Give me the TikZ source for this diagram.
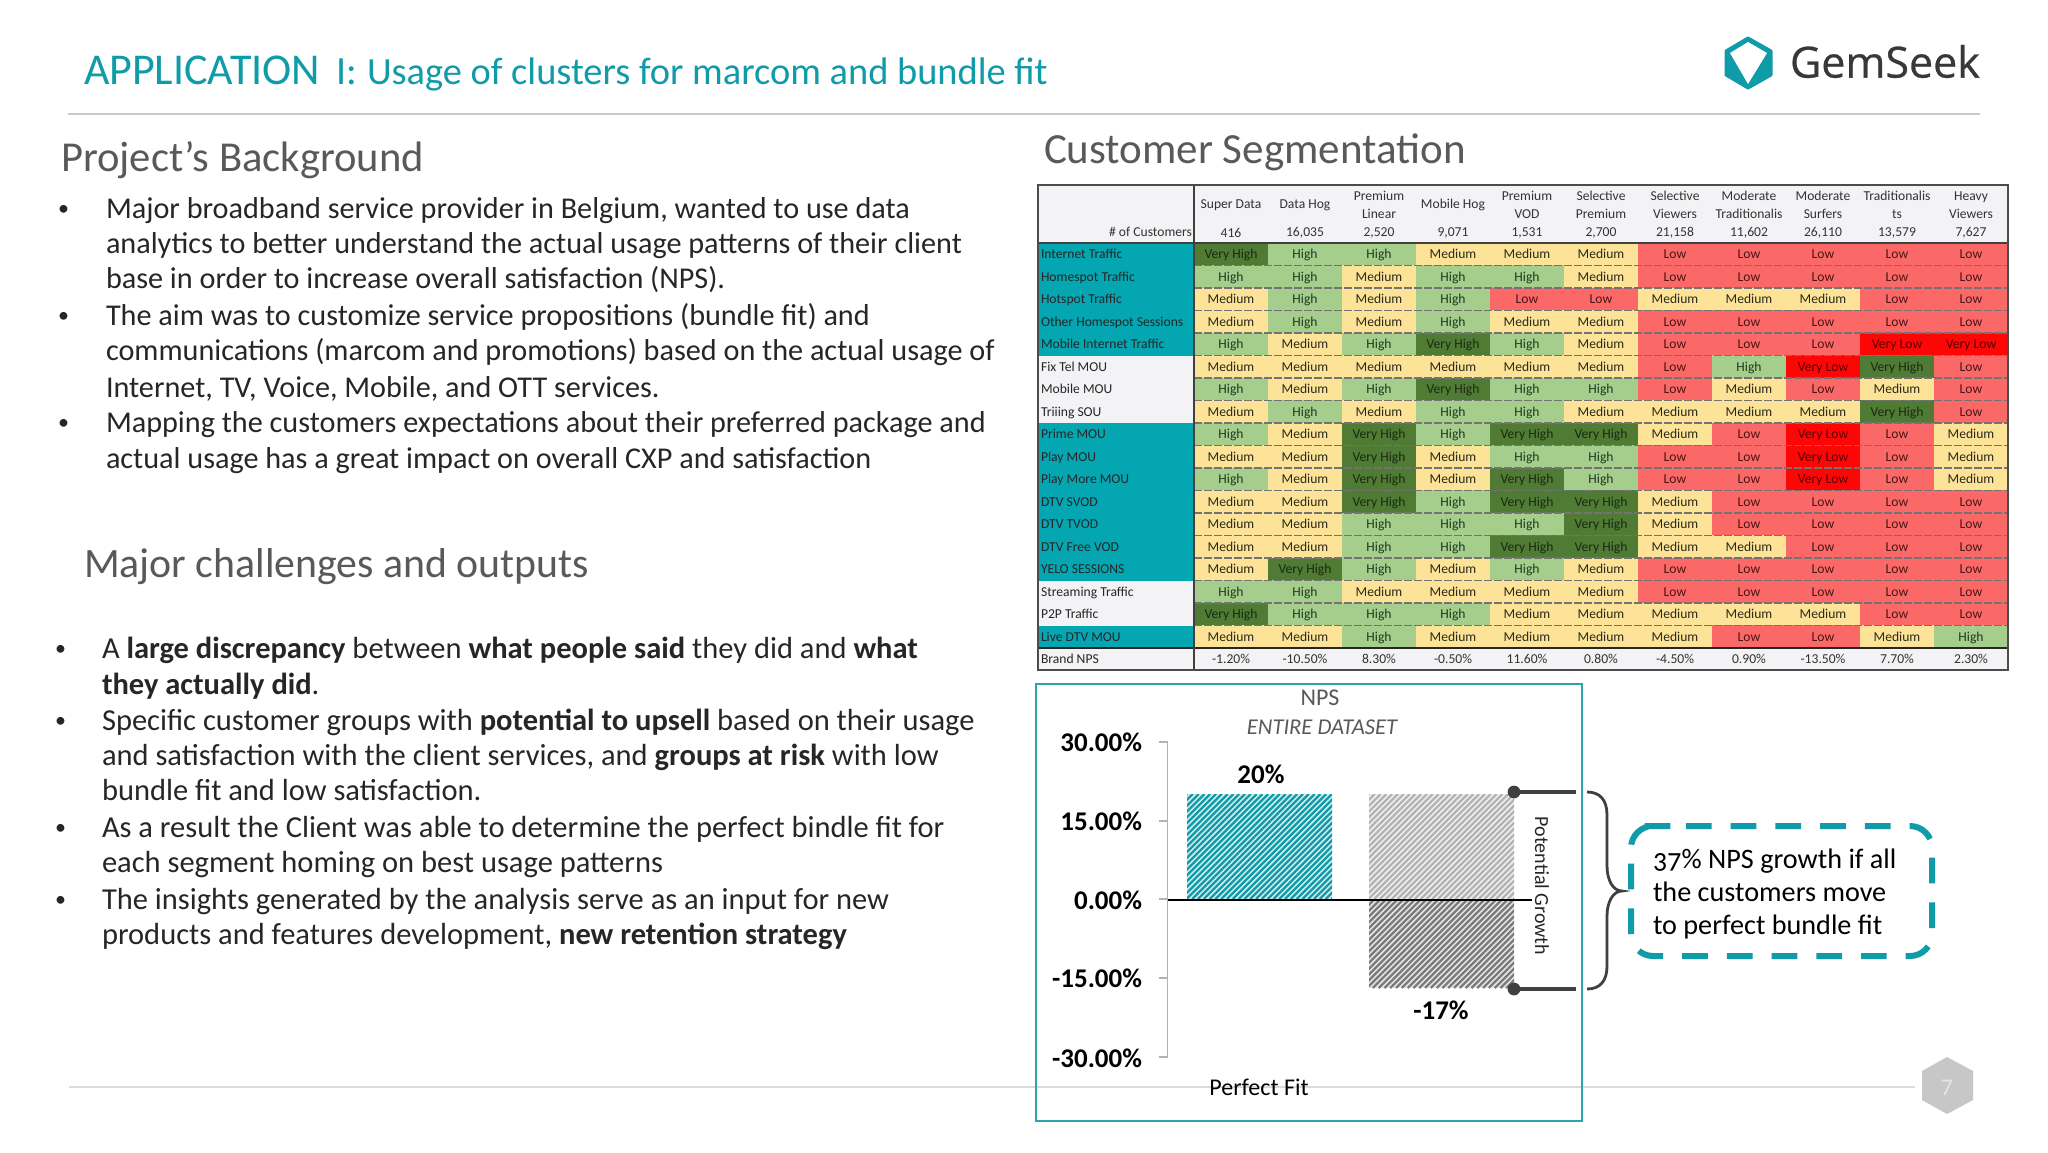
\documentclass[tikz,border=0pt]{standalone}
\usepackage{fontspec}
\setmainfont{Carlito}
\newfontfamily\oldnum[Numbers=OldStyle]{Carlito}
\newfontfamily\logofont[FakeBold=0.6]{Open Sans}
\newcommand{\fsz}[1]{\fontsize{#1}{#1}\selectfont}
\definecolor{teal1}{HTML}{0F9BA8}
\definecolor{framec}{HTML}{2AA5AE}
\definecolor{rowteal}{HTML}{04A6B2}
\definecolor{headbg}{HTML}{F3F3F6}
\definecolor{greytxt}{HTML}{595959}
\definecolor{bodytxt}{HTML}{262626}
\definecolor{ruleg}{HTML}{C9C9C9}
\definecolor{cV}{HTML}{4F7B35}
\definecolor{cH}{HTML}{A5CE8D}
\definecolor{cM}{HTML}{FDE397}
\definecolor{cL}{HTML}{FB6868}
\definecolor{cU}{HTML}{FC0606}
\definecolor{tV}{HTML}{1A2A10}
\definecolor{tH}{HTML}{1E3A1E}
\definecolor{tM}{HTML}{2A2A1A}
\definecolor{tL}{HTML}{4A1515}
\definecolor{tU}{HTML}{5A0000}
\definecolor{hatchlt}{HTML}{B3B3B3}
\definecolor{hatchdk}{HTML}{7A7A7A}
\def\nameV{Very High}\def\nameH{High}\def\nameM{Medium}\def\nameL{Low}\def\nameU{Very Low}
\newcommand{\hatchbar}[5]{%
  \fill[#5!18] (#1,#2) rectangle (#3,#4);
  \begin{scope}
    \clip (#1,#2) rectangle (#3,#4);
    \foreach \hk in {0,...,60}{%
      \pgfmathsetmacro{\xa}{#1-(#4-#2)+\hk*5.8}
      \pgfmathsetmacro{\xb}{\xa+(#4-#2)}
      \draw[#5,line width=2.3pt] (\xa,#4) -- (\xb,#2);
    }
  \end{scope}}
\tikzset{
  x=1pt,y=-1pt,
  fixh/.code={%
    \pgfmathsetmacro{\fixhh}{.88*#1}\pgfmathsetmacro{\fixhd}{.2*#1}%
    \tikzset{inner sep=0pt,outer sep=0pt,text height/.expanded=\fixhh pt,text depth/.expanded=\fixhd pt}},
  titletxt/.style={fixh=39.6,anchor=west,text=teal1,font=\oldnum\fsz{38.4}},
  headtxt/.style={fixh=42.6,anchor=west,text=greytxt,font=\fsz{42.6}},
  bodyline/.style={fixh=30.2,anchor=west,text=bodytxt,font=\fsz{30.2}},
  bodylineb/.style={fixh=30.2,anchor=west,text=bodytxt,font=\fsz{30.5}},
  bullet/.style={fixh=22,anchor=west,text=bodytxt,font=\fsz{22}},
  rowlab/.style={fixh=13.6,anchor=west,text=black!85,font=\fsz{13.6}},
  cell/.style={fixh=13.6,minimum width=74.6pt,minimum height=23pt,font=\fsz{13.6}},
  headcell/.style={inner sep=0pt,outer sep=0pt,align=center,text=black!80,font=\fsz{13.6}},
  axislab/.style={fixh=27,anchor=east,text=black,font=\bfseries\fsz{27}},
  vallab/.style={fixh=27,anchor=center,text=black,font=\bfseries\fsz{27}},
  calline/.style={fixh=28.2,anchor=west,text=black,font=\oldnum\fsz{28.2}},
  rowsep/.style={draw=black!55,line width=1.6pt,dash pattern=on 7.5pt off 2.5pt},
}
\begin{document}
\begin{tikzpicture}
\useasboundingbox (0,0) rectangle (2048,1152);
\fill[white] (0,0) rectangle (2048,1152);
% header
\draw[ruleg,line width=2pt] (68,114) -- (1980,114);
\node[titletxt] (title) at (84,71) {\makebox[252pt][l]{\fsz{44}APPLICATION}\makebox[31pt][l]{\fsz{40}I:}Usage of clusters for marcom and bundle fit};
% logo
\fill[teal1,draw=teal1,line width=3pt,line join=round] (1748,38) -- (1771,51) -- (1771,75) -- (1748,88) -- (1726,75) -- (1726,51) -- cycle;
\fill[white] (1748,42) -- (1767,53) -- (1748,84) -- (1730,53) -- cycle;
\node[fixh=43,anchor=west,text=black!78,font=\logofont\fsz{43}] (logo) at (1790,63) {GemSeek};
% footer
\draw[black!14,line width=1.2pt] (69,1087) -- (1915,1087);
\fill[black!22] (1947,1057) -- (1973,1071) -- (1973,1100) -- (1947,1114) -- (1922,1100) -- (1922,1071) -- cycle;
\node[fixh=24,anchor=center,text=white!90!black,font=\fsz{24}] (pagenum) at (1947,1087) {7};
% left text
\node[headtxt] (h1) at (61,157) {Project’s Background};
\foreach \yy in {208,315,422}{\node[bullet] at (58,\yy) {•};}
\node[bodyline] (b1) at (106,208) {Major broadband service provider in Belgium, wanted to use data};
\node[bodyline] (b2) at (106,243) {analytics to better understand the actual usage patterns of their client};
\node[bodyline] (b3) at (106,278) {base in order to increase overall satisfaction (NPS).};
\node[bodyline] (b4) at (106,315) {The aim was to customize service propositions (bundle fit) and};
\node[bodyline] (b5) at (106,350) {communications (marcom and promotions) based on the actual usage of};
\node[bodyline] (b6) at (106,387) {Internet, TV, Voice, Mobile, and OTT services.};
\node[bodyline] (b7) at (106,422) {Mapping the customers expectations about their preferred package and};
\node[bodyline] (b8) at (106,458) {actual usage has a great impact on overall CXP and satisfaction};
\node[headtxt,font=\fsz{41.8}] (h2) at (84,563) {Major challenges and outputs};
\foreach \yy in {648,720,827,899}{\node[bullet] at (55,\yy) {•};}
\node[bodylineb] (c1) at (102,648) {A \textbf{large discrepancy} between \textbf{what people said} they did and \textbf{what}};
\node[bodylineb] (c2) at (102,684) {\textbf{they actually did}.};
\node[bodylineb] (c3) at (102,720) {Specific customer groups with \textbf{potential to upsell} based on their usage};
\node[bodylineb] (c4) at (102,755) {and satisfaction with the client services, and \textbf{groups at risk} with low};
\node[bodylineb] (c5) at (102,790) {bundle fit and low satisfaction.};
\node[bodylineb] (c6) at (102,827) {As a result the Client was able to determine the perfect bindle fit for};
\node[bodylineb] (c7) at (102,862) {each segment homing on best usage patterns};
\node[bodylineb] (c8) at (102,899) {The insights generated by the analysis serve as an input for new};
\node[bodylineb] (c9) at (102,934) {products and features development, \textbf{new retention strategy}};
% table
\node[headtxt,font=\fsz{43}] (h3) at (1044,149) {Customer Segmentation};
\fill[headbg] (1038,185) rectangle (2008,670);
\foreach \hdr/\cnt [count=\cj from 0] in {Super Data/416,Data Hog/{16,035},{Premium\\[4pt]Linear}/{2,520},Mobile Hog/{9,071},{Premium\\[4pt]VOD}/{1,531},{Selective\\[4pt]Premium}/{2,700},{Selective\\[4pt]Viewers}/{21,158},{Moderate\\[4pt]Traditionalis}/{11,602},{Moderate\\[4pt]Surfers}/{26,110},{Traditionalis\\[4pt]ts}/{13,579},{Heavy\\[4pt]Viewers}/{7,627}}{
  \pgfmathsetmacro{\cx}{1194+74*\cj+37}
  \node[headcell] (head\cj) at (\cx,205) {\hdr};
  \node[headcell] (count\cj) at (\cx,233) {\cnt};
}
\node[fixh=13.6,anchor=east,text=black!80,font=\fsz{13.6}] (custlab) at (1192,232) {\# of Customers};
\foreach \lab/\kind/\vals [count=\ri from 0] in {
  Internet Traffic/T/{V,H,H,M,M,M,L,L,L,L,L},
  Homespot Traffic/T/{H,H,M,H,H,M,L,L,L,L,L},
  Hotspot Traffic/T/{M,H,M,H,L,L,M,M,M,L,L},
  Other Homespot Sessions/T/{M,H,M,H,M,M,L,L,L,L,L},
  Mobile Internet Traffic/T/{H,M,H,V,H,M,L,L,L,U,U},
  Fix Tel MOU/W/{M,M,M,M,M,M,L,H,U,V,L},
  Mobile MOU/W/{H,M,H,V,H,H,L,M,L,M,L},
  Triiing SOU/W/{M,H,M,H,H,M,M,M,M,V,L},
  Prime MOU/T/{H,M,V,H,V,V,M,L,U,L,M},
  Play MOU/T/{M,M,V,M,H,H,L,L,U,L,M},
  Play More MOU/T/{H,M,V,M,V,H,L,L,U,L,M},
  DTV SVOD/T/{M,M,V,H,V,V,M,L,L,L,L},
  DTV TVOD/T/{M,M,H,H,H,V,M,L,L,L,L},
  DTV Free VOD/T/{M,M,H,H,V,V,M,M,L,L,L},
  YELO SESSIONS/T/{M,V,H,M,H,M,L,L,L,L,L},
  Streaming Traffic/W/{H,H,M,M,M,M,L,L,L,L,L},
  P2P Traffic/W/{V,H,H,H,M,M,M,M,M,L,L},
  Live DTV MOU/T/{M,M,H,M,M,M,M,L,L,M,H}}{
  \pgfmathsetmacro{\ya}{243+22.5*\ri}
  \pgfmathsetmacro{\yb}{\ya+22.5}
  \pgfmathsetmacro{\yc}{\ya+11.25}
  \if\kind T\relax \fill[rowteal] (1038,\ya) rectangle (1194,\yb);\fi
  \node[rowlab] (row\ri) at (1041,\yc) {\lab};
  \foreach \cc [count=\cj from 0] in \vals {
    \pgfmathsetmacro{\cx}{1194+74*\cj+37}
    \node[cell,fill=c\cc,text=t\cc] (cell\ri-\cj) at (\cx,\yc) {\csname name\cc\endcsname};
  }
}
\foreach \ri in {1,...,17}{
  \pgfmathsetmacro{\ya}{243+22.5*\ri}
  \draw[rowsep] (1194,\ya) -- (2008,\ya);
}
\node[rowlab] (brand) at (1041,659) {Brand NPS};
\foreach \val [count=\cj from 0] in {-1.20\%,-10.50\%,8.30\%,-0.50\%,11.60\%,0.80\%,-4.50\%,0.90\%,-13.50\%,7.70\%,2.30\%}{
  \pgfmathsetmacro{\cx}{1194+74*\cj+37}
  \node[headcell,fixh=13.6] (nps\cj) at (\cx,659) {\val};
}
\draw[black!75,line width=1.6pt] (1038,243) -- (2008,243);
\draw[black!85,line width=1.6pt] (1038,648) -- (2008,648);
\draw[black!75,line width=2pt] (1194,185) -- (1194,670);
\draw[black!70,line width=2.2pt] (1038,185) rectangle (2008,670);
% chart
\draw[framec,line width=2.6pt] (1036,684) rectangle (1582,1121);
\node[fixh=24,anchor=center,text=greytxt,font=\fsz{24}] (npstitle) at (1320,697) {NPS};
\node[fixh=21.5,anchor=center,text=greytxt,font=\itshape\fsz{22.6}] (subt) at (1322,727) {ENTIRE DATASET};
\draw[black!30,line width=1.3pt] (1159,742) -- (1167.5,742) -- (1167.5,1057) -- (1159,1057);
\foreach \yy in {821,899,978}{\draw[black!30,line width=1.3pt] (1159,\yy) -- (1167.5,\yy);}
\foreach \yy/\tx in {742/30.00\%,821/15.00\%,900/0.00\%,978/-15.00\%,1058/-30.00\%}{
  \node[axislab] at (1142,\yy) {\tx};
}
\hatchbar{1187}{794}{1332}{899}{teal1}
\hatchbar{1369}{794}{1514}{899}{hatchlt}
\hatchbar{1369}{899}{1514}{988}{hatchdk}
\draw[black,line width=2pt] (1167.5,899.5) -- (1532,899.5);
\node[vallab] (v20) at (1261,774) {20\%};
\node[vallab] (v17) at (1441,1010) {-17\%};
\node[fixh=24,anchor=center,text=black,font=\fsz{24}] (pfit) at (1259,1087) {Perfect Fit};
\node[fixh=20,anchor=center,text=black!85,rotate=-90,font=\fsz{20}] (pot) at (1542,886) {Potential Growth};
\coordinate (dotA) at (1514,792); \coordinate (endA) at (1576,792);
\coordinate (dotB) at (1514,989); \coordinate (endB) at (1576,989);
\draw[black!75,line width=3.2pt] (dotA) -- (endA);
\draw[black!75,line width=3.2pt] (dotB) -- (endB);
\fill[black!75] (dotA) circle (6.4pt);
\fill[black!75] (dotB) circle (6.4pt);
% brace
\draw[black!75,line width=2.8pt] (1587,792) .. controls (1600,792) and (1607,800) .. (1607,815) -- (1607,866) .. controls (1607,880) and (1613,891) .. (1622,891) .. controls (1613,891) and (1607,902) .. (1607,916) -- (1607,966) .. controls (1607,981) and (1600,989) .. (1587,989);
% callout
\draw[teal1,line width=6pt,dash pattern=on 25.7pt off 19pt,rounded corners=22pt] (1664,826) -- (1932,826) -- (1932,956) -- (1631,956) -- (1631,826) -- cycle;
\node[calline] (l1) at (1653,859) {37\% NPS growth if all};
\node[calline] (l2) at (1653,892) {the customers move};
\node[calline] (l3) at (1653,925) {to perfect bundle fit};
\end{tikzpicture}
\end{document}
